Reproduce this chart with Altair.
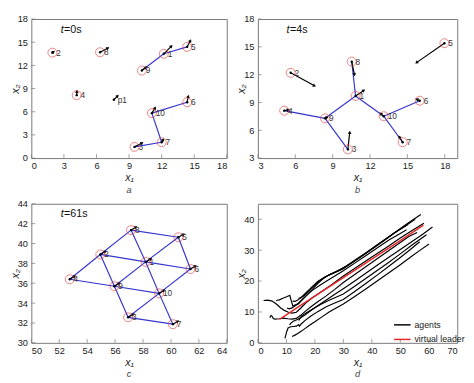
import math
import altair as alt
import pandas as pd

FONT = "Liberation Sans"
W_L, W_R, H = 201, 205, 143
RED = "#e0393b"
BLUE = "#3535d0"
FRAME = "#777777"

# ---------- panel a : t = 0 s ----------
a_ids = ["1", "2", "3", "4", "5", "6", "7", "8", "9", "10"]
a_x = [12.2, 1.94, 9.5, 4.18, 14.35, 14.35, 12.0, 6.33, 10.18, 11.1]
a_y = [13.5, 13.65, 1.45, 8.15, 14.4, 7.23, 2.05, 13.7, 11.33, 5.82]
a_vx = [12.9, 2.05, 10.2, 4.2, 14.65, 14.45, 12.15, 7.06, 10.55, 11.4]
a_vy = [14.5, 13.75, 1.95, 8.65, 15.2, 8.0, 2.4, 14.25, 11.75, 6.5]
a_edges = [("9", "1"), ("1", "5"), ("6", "10"), ("10", "7"), ("7", "3")]
leader_a = {"id": "p1", "x": 7.6, "y": 7.55, "vx": 7.95, "vy": 8.05}

# ---------- panel b : t = 4 s ----------
b_ids = ["1", "2", "3", "4", "5", "6", "7", "8", "9", "10"]
b_x = [10.84, 5.63, 10.22, 5.11, 17.97, 15.99, 14.62, 10.53, 8.39, 13.1]
b_y = [9.7, 12.2, 3.94, 8.12, 15.39, 9.19, 4.71, 13.41, 7.29, 7.52]
b_vx = [11.5, 7.54, 10.37, 5.45, 15.73, 15.75, 14.35, 10.75, 8.55, 12.85]
b_vy = [10.3, 10.8, 5.78, 8.2, 13.3, 9.35, 5.3, 12.0, 7.4, 7.8]
b_edges = [("8", "1"), ("4", "9"), ("9", "1"), ("9", "3"), ("1", "10"), ("10", "6"), ("10", "7")]

# ---------- panel c : t = 61 s ----------
c_ids = ["8", "5", "2", "1", "6", "4", "9", "10", "3", "7"]
c_x = [57.14, 60.53, 54.94, 58.19, 61.4, 52.75, 55.95, 59.15, 56.93, 60.14]
c_y = [41.35, 40.63, 38.9, 38.15, 37.43, 36.4, 35.7, 34.98, 32.57, 31.88]
c_vx = [57.5, 60.9, 55.3, 58.55, 61.75, 53.1, 56.3, 59.5, 57.3, 60.5]
c_vy = [41.65, 40.93, 39.2, 38.45, 37.73, 36.7, 36.0, 35.28, 32.87, 32.18]
c_edges = [("8", "5"), ("2", "1"), ("1", "6"), ("4", "9"), ("9", "10"), ("3", "7"),
           ("4", "2"), ("2", "8"), ("9", "1"), ("1", "5"), ("3", "10"), ("10", "6"),
           ("8", "1"), ("1", "10"), ("10", "7"), ("2", "9"), ("9", "3"), ("5", "6")]

# ---------- panel d : trajectories ----------
leader_x = [7.6, 15.0, 22.4, 30.0, 40.0, 50.0, 58.1]
leader_y = [7.6, 12.1, 16.6, 21.1, 27.1, 33.1, 38.1]
traj = {
    "2": ([2.0, 3.5, 5.0, 6.7, 8.0, 9.3, 10.7, 12.0, 13.5, 15.0, 16.8, 19, 22, 26, 30, 35, 40, 45, 50, 54, 58.3],
          [13.7, 13.8, 13.5, 12.4, 11.3, 10.5, 9.9, 9.6, 9.9, 11.2, 12.9, 14.5, 16.4, 18.9, 21.6, 24.7, 27.8, 30.8, 33.9, 36.3, 38.7]),
    "8": ([6.4, 7.5, 9.0, 10.3, 11.2, 11.6, 12.3, 13.2, 14.2, 15.5, 17, 19, 21, 23, 25, 27.5, 30, 33, 36, 40, 44, 48, 52, 57.2],
          [13.7, 13.9, 14.5, 15.0, 15.4, 14.0, 11.9, 12.3, 12.6, 13.8, 15.3, 17.2, 19.2, 20.8, 22.0, 22.9, 24.0, 25.8, 27.7, 30.3, 32.9, 35.6, 38.3, 41.5]),
    "1": ([12.2, 13.0, 14.0, 15.5, 17, 19, 21, 23.5, 26, 29, 32, 36, 40, 44, 48, 52, 55.2],
          [13.5, 13.4, 13.9, 15.0, 16.3, 18.1, 19.9, 21.3, 22.4, 23.7, 25.4, 27.9, 30.4, 33.0, 35.6, 38.0, 40.0]),
    "5": ([14.35, 15.2, 16.3, 17.5, 19, 21, 23, 25.5, 28, 31, 34, 38, 42, 46, 50, 52.7],
          [14.4, 14.6, 15.3, 16.4, 17.9, 19.6, 21.0, 22.2, 23.3, 24.8, 26.7, 29.2, 31.8, 34.3, 36.8, 38.3]),
    "9": ([10.2, 11.0, 12.0, 13.5, 15, 17, 19, 21.5, 24, 27, 30, 34, 38, 42, 46, 50, 52.2],
          [11.3, 11.0, 11.3, 12.2, 13.6, 15.3, 16.9, 18.5, 19.9, 21.6, 23.3, 25.8, 28.3, 30.8, 33.3, 35.4, 36.6]),
    "4": ([4.2, 4.6, 5.0, 5.4, 6.0, 7.5, 9.0, 10.5, 12.0, 13.5, 15.0, 16.5, 18.5, 21, 24, 27, 30, 34, 38, 42, 46, 50, 53, 55.9],
          [8.15, 8.9, 8.6, 7.9, 7.7, 7.8, 8.0, 7.8, 7.7, 7.9, 8.9, 10.1, 11.6, 13.3, 15.2, 17.3, 19.5, 22.1, 24.7, 27.3, 29.9, 32.5, 34.4, 35.7]),
    "10": ([11.1, 11.6, 12.4, 13.5, 15, 16.5, 18.5, 21, 24, 27, 30, 34, 38, 42, 46, 50, 54, 58, 61.3],
           [5.8, 6.4, 7.0, 7.4, 8.1, 9.0, 10.4, 12.0, 13.9, 15.7, 17.5, 20.0, 22.6, 25.2, 27.7, 30.2, 32.7, 35.2, 37.5]),
    "6": ([14.35, 14.8, 15.3, 16.2, 17.5, 19.5, 22, 25, 28, 30, 34, 38, 42, 46, 50, 54, 59.2],
          [7.23, 8.0, 8.6, 9.3, 10.0, 11.1, 12.4, 13.8, 15.0, 15.8, 18.3, 20.9, 23.5, 26.1, 28.8, 31.6, 35.0]),
    "3": ([9.5, 9.8, 10.1, 10.6, 11.5, 12.5, 13.5, 14.3, 14.6, 15.2, 16.5, 18.5, 21, 24, 27, 30, 34, 38, 42, 46, 50, 53, 56.8],
          [1.45, 2.5, 3.6, 4.8, 5.2, 5.3, 5.4, 5.9, 5.4, 6.1, 7.2, 8.6, 10.1, 11.7, 12.9, 14.0, 16.6, 19.3, 22.0, 24.8, 27.6, 29.8, 32.7]),
    "7": ([12.0, 13.0, 14.0, 15.3, 16.5, 18, 20, 22.5, 25, 27.5, 30, 34, 38, 42, 46, 50, 54, 57, 60.1],
          [2.05, 2.5, 3.0, 3.8, 4.6, 5.6, 6.8, 8.4, 10.0, 11.3, 12.6, 15.0, 17.5, 20.1, 22.7, 25.3, 28.0, 30.0, 32.0]),
}
series_names = ["agents", "virtual leader"]


def axes(xdom, ydom, xt, yt):
    def X(f):
        return alt.X(f, type="quantitative",
                     scale=alt.Scale(domain=xdom, nice=False, zero=False),
                     axis=alt.Axis(values=xt, title="x₁", format="d"))

    def Y(f):
        return alt.Y(f, type="quantitative",
                     scale=alt.Scale(domain=ydom, nice=False, zero=False),
                     axis=alt.Axis(values=yt, title="x₂", format="d"))
    return X, Y


def sub_title(s):
    return alt.TitleParams(text=s, orient="bottom", anchor="middle", frame="group",
                           fontSize=9.5, fontStyle="italic", fontWeight="normal",
                           color="#444444", offset=2, font=FONT)


def tick_layers(X, Y, xt, yt):
    tx = alt.Chart(pd.DataFrame({"v": xt})).mark_tick(color=FRAME, thickness=1, size=4).encode(
        x=X("v"), y=alt.value(H - 2))
    ty = alt.Chart(pd.DataFrame({"v": yt})).mark_tick(color=FRAME, thickness=1, size=4).encode(
        y=Y("v"), x=alt.value(2))
    return [tx, ty]


def agent_panel(ids, xs, ys, vxs, vys, edges, xdom, ydom, xt, yt, width, tpos, tsuf, sub, leader=None):
    X, Y = axes(xdom, ydom, xt, yt)
    sx = width / (xdom[1] - xdom[0])
    sy = H / (ydom[1] - ydom[0])
    pos = dict(zip(ids, zip(xs, ys)))
    nodes = pd.DataFrame({"id": ids, "x": xs, "y": ys})
    ax0, ay0, ax1, ay1 = list(xs), list(ys), list(vxs), list(vys)
    lab = nodes.copy()
    if leader:
        ax0.append(leader["x"]); ay0.append(leader["y"])
        ax1.append(leader["vx"]); ay1.append(leader["vy"])
        lab = pd.concat([lab, pd.DataFrame({"id": [leader["id"]], "x": [leader["x"]], "y": [leader["y"]]})])
    arrows = pd.DataFrame({"x": ax0, "y": ay0, "x2": ax1, "y2": ay1})
    arrows["angle"] = [math.degrees(math.atan2((b - a) * sx, (d - c) * sy)) % 360
                       for a, b, c, d in zip(ax0, ax1, ay0, ay1)]
    edf = pd.DataFrame([{"x": pos[a][0], "y": pos[a][1], "x2": pos[b][0], "y2": pos[b][1]} for a, b in edges])

    e_layer = alt.Chart(edf).mark_rule(color=BLUE, strokeWidth=1.2).encode(
        x=X("x"), y=Y("y"), x2=alt.X2("x2"), y2=alt.Y2("y2"))
    circ = alt.Chart(nodes).mark_point(shape="circle", filled=False, color=RED, size=85, strokeWidth=0.9).encode(
        x=X("x"), y=Y("y"))
    shaft = alt.Chart(arrows).mark_rule(color="black", strokeWidth=1.2).encode(
        x=X("x"), y=Y("y"), x2=alt.X2("x2"), y2=alt.Y2("y2"))
    head = alt.Chart(arrows).mark_point(shape="triangle-up", filled=True, color="black", size=14, opacity=1).encode(
        x=X("x2"), y=Y("y2"), angle=alt.Angle("angle:Q", scale=None))
    dots = alt.Chart(arrows).mark_point(shape="circle", filled=True, color="black", size=6, opacity=1).encode(
        x=X("x"), y=Y("y"))
    labels = alt.Chart(lab).mark_text(align="left", baseline="middle", dx=4, fontSize=8.5, font=FONT,
                                       color="#333333").encode(x=X("x"), y=Y("y"), text="id:N")
    tdf = pd.DataFrame({"x": [tpos[0]], "y": [tpos[1]]})
    t1 = alt.Chart(tdf).mark_text(text="t", align="left", baseline="middle", fontSize=11, font=FONT,
                                  fontStyle="italic", color="#111111").encode(x=X("x"), y=Y("y"))
    t2 = alt.Chart(tdf).mark_text(text=tsuf, align="left", baseline="middle", dx=3.5, fontSize=11, font=FONT,
                                  color="#111111").encode(x=X("x"), y=Y("y"))
    layers = [e_layer, shaft, head, circ, dots, labels, t1, t2] + tick_layers(X, Y, xt, yt)
    return alt.layer(*layers).properties(width=width, height=H, title=sub_title(sub))


pa = agent_panel(a_ids, a_x, a_y, a_vx, a_vy, a_edges, [0, 18], [0, 18],
                 list(range(0, 19, 3)), list(range(0, 19, 3)), W_L, (2.7, 16.6), "=0s", "a", leader=leader_a)
pb = agent_panel(b_ids, b_x, b_y, b_vx, b_vy, b_edges, [3, 19], [3, 18],
                 list(range(3, 19, 3)), list(range(3, 19, 3)), W_R, (5.3, 16.8), "=4s", "b")
pc = agent_panel(c_ids, c_x, c_y, c_vx, c_vy, c_edges, [50, 64], [30, 44],
                 list(range(50, 65, 2)), list(range(30, 45, 2)), W_L, (52.1, 43.0), "=61s", "c")

# panel d
Xd, Yd = axes([0, 70], [0, 45], list(range(0, 71, 10)), list(range(0, 41, 10)))
rows = []
for aid, (xs, ys) in traj.items():
    for i, (xv, yv) in enumerate(zip(xs, ys)):
        rows.append({"agent": aid, "i": i, "x": xv, "y": yv, "kind": series_names[0]})
agents_df = pd.DataFrame(rows)
leader_df = pd.DataFrame({"i": list(range(len(leader_x))), "x": leader_x, "y": leader_y,
                          "kind": series_names[1]})
color = alt.Color("kind:N", scale=alt.Scale(domain=series_names, range=["black", "#e8262a"]),
                  legend=alt.Legend(title=None, orient="none", legendX=W_R - 66, legendY=H - 28,
                                    symbolType="stroke", symbolSize=289, symbolStrokeWidth=1.5,
                                    labelFontSize=9, labelFont=FONT, labelColor="#222222",
                                    labelOffset=3, rowPadding=0))
d_agents = alt.Chart(agents_df).mark_line(strokeWidth=1.2).encode(
    x=Xd("x"), y=Yd("y"), color=color, detail="agent:N", order="i:Q")
d_leader = alt.Chart(leader_df).mark_line(strokeWidth=1.5).encode(
    x=Xd("x"), y=Yd("y"), color=color, order="i:Q")
pd_ = alt.layer(d_agents, d_leader, *tick_layers(Xd, Yd, list(range(0, 71, 10)), list(range(0, 41, 10)))).properties(
    width=W_R, height=H, title=sub_title("d"))

chart = alt.vconcat(
    alt.hconcat(pa, pb, spacing=7).resolve_scale(color="independent").resolve_legend(color="independent"),
    alt.hconcat(pc, pd_, spacing=7).resolve_scale(color="independent").resolve_legend(color="independent"),
    spacing=3,
).resolve_scale(color="independent").resolve_legend(color="independent").properties(padding=0).configure_axis(
    labelFont=FONT, titleFont=FONT, labelFontSize=9.5, titleFontSize=11, labelColor="#222222",
    titleColor="#222222", ticks=False, domain=False, grid=False, labelPadding=3,
    titleFontWeight="normal", titleFontStyle="italic",
).configure_axisX(titlePadding=2).configure_axisY(titlePadding=-3, labelPadding=4).configure_view(
    stroke=FRAME, strokeWidth=1)

chart.save("out.html", embed_options={"renderer": "svg", "actions": False})
